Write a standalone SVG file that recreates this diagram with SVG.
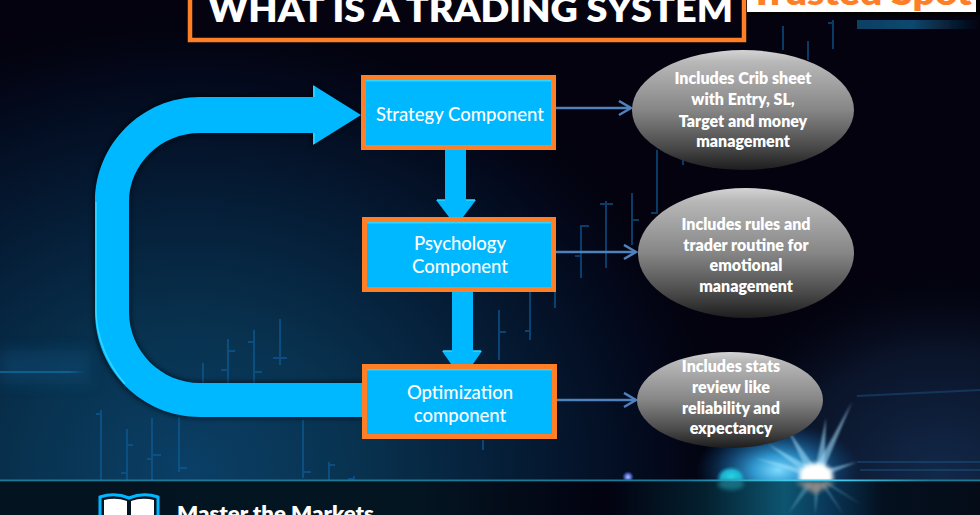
<svg xmlns="http://www.w3.org/2000/svg" width="980" height="515" viewBox="0 0 980 515">
<defs>
<radialGradient id="glow" gradientUnits="userSpaceOnUse" cx="0" cy="0" r="1" gradientTransform="translate(190 470) scale(560 470)"><stop offset="0" stop-color="#0b3f66"/><stop offset=".3" stop-color="#08324f"/><stop offset=".6" stop-color="#051b34"/><stop offset=".85" stop-color="#03081a"/><stop offset="1" stop-color="#03030f" stop-opacity="0"/></radialGradient>
<radialGradient id="glowR" gradientUnits="userSpaceOnUse" cx="0" cy="0" r="1" gradientTransform="translate(940 480) scale(260 220)"><stop offset="0" stop-color="#12294a"/><stop offset=".6" stop-color="#0a1328"/><stop offset="1" stop-color="#03030f" stop-opacity="0"/></radialGradient>
<linearGradient id="floor" x1="0" x2="1" y1="0" y2="0"><stop offset="0" stop-color="#031320"/><stop offset=".42" stop-color="#041522"/><stop offset=".62" stop-color="#020210"/><stop offset=".72" stop-color="#04202f"/><stop offset=".8" stop-color="#0d5570"/><stop offset=".84" stop-color="#0a3a5c"/><stop offset=".9" stop-color="#04101f"/><stop offset="1" stop-color="#050c18"/></linearGradient>
<linearGradient id="ell" x1="0" x2="0" y1="0" y2="1"><stop offset="0" stop-color="#d4d4d4"/><stop offset=".1" stop-color="#b8b8b8"/><stop offset=".5" stop-color="#868686"/><stop offset=".82" stop-color="#474747"/><stop offset="1" stop-color="#1d1d1d"/></linearGradient>
<radialGradient id="flare"><stop offset="0" stop-color="#7fdcff"/><stop offset=".3" stop-color="#35a8e4" stop-opacity=".9"/><stop offset=".65" stop-color="#1a70b0" stop-opacity=".5"/><stop offset="1" stop-color="#0a4f8c" stop-opacity="0"/></radialGradient>
<radialGradient id="blob"><stop offset="0" stop-color="#2ee8f4"/><stop offset=".65" stop-color="#1cc0dc" stop-opacity=".85"/><stop offset="1" stop-color="#1090c0" stop-opacity="0"/></radialGradient>
<radialGradient id="dot"><stop offset="0" stop-color="#b8c4ff"/><stop offset=".5" stop-color="#6a80f0" stop-opacity=".8"/><stop offset="1" stop-color="#3050c0" stop-opacity="0"/></radialGradient>
<linearGradient id="streakT" x1="0" x2="1" y1="0" y2="0"><stop offset="0" stop-color="#0d3f63"/><stop offset=".45" stop-color="#11486e"/><stop offset="1" stop-color="#0d3f63" stop-opacity="0"/></linearGradient>
<linearGradient id="streakL" x1="0" x2="1" y1="0" y2="0"><stop offset="0" stop-color="#0d5f8e"/><stop offset=".8" stop-color="#0d5f8e"/><stop offset="1" stop-color="#0d5f8e" stop-opacity="0"/></linearGradient>
<linearGradient id="hor" x1="0" x2="1" y1="0" y2="0"><stop offset="0" stop-color="#1a7a98"/><stop offset=".7" stop-color="#1a7a98"/><stop offset=".8" stop-color="#45c8e8"/><stop offset=".86" stop-color="#45c8e8"/><stop offset=".95" stop-color="#1a7a98"/><stop offset="1" stop-color="#1a7a98"/></linearGradient>
<marker id="arr" markerUnits="userSpaceOnUse" markerWidth="16" markerHeight="18" refX="14" refY="8" orient="auto"><path d="M2 1 L14 8 L2 15" fill="none" stroke="#4f81bd" stroke-width="2.6"/></marker>
<filter id="soft" x="-20%" y="-20%" width="140%" height="140%"><feGaussianBlur stdDeviation=".6"/></filter>
<filter id="ray" x="-50%" y="-50%" width="200%" height="200%"><feGaussianBlur stdDeviation="1.200"/></filter>
<filter id="blur2" x="-30%" y="-30%" width="160%" height="160%"><feGaussianBlur stdDeviation="2"/></filter>
<filter id="blur6" x="-30%" y="-100%" width="160%" height="300%"><feGaussianBlur stdDeviation="7"/></filter>
<style>
.box{fill:#00b8ff;stroke:#ff7f27;stroke-width:5}
.hl{stroke:#33d6ff;stroke-width:1.500;fill:none}
.bt{font-family:Lato,"Liberation Sans",sans-serif;font-size:18.500px;font-weight:500;fill:#fff;text-anchor:middle}
.et{font-family:Lato,"Liberation Sans",sans-serif;font-size:16px;font-weight:800;fill:#fff;text-anchor:middle}
.con{fill:none;stroke:#4f81bd;stroke-width:2.4;marker-end:url(#arr)}
.tick{fill:none;stroke:#0f5f9e;stroke-width:2}
.big{fill:#00b8ff}
.ray{fill:#a8e4ff;opacity:.55}
</style>
</defs>
<g id="background">
<rect width="980" height="515" fill="#03020e"/>
<rect width="980" height="480" fill="url(#glow)"/>
<rect y="240" x="720" width="260" height="240" fill="url(#glowR)"/>
<rect y="350" width="90" height="34" fill="#0c4a72" opacity=".5" filter="url(#blur6)"/>
<rect y="371" width="86" height="2" fill="url(#streakL)" filter="url(#soft)"/>
<rect x="857" y="20" width="123" height="9" fill="url(#streakT)" filter="url(#soft)"/>
<g filter="url(#soft)" opacity=".62">
<path class="tick" d="M203 363V383M228 339V383M228 351H235M221 370H228M254 330V383M248 342H254M254 372H262M280 319V365M273 358H287"/>
<path class="tick" d="M101 410V500M96 414H101M127 429V500M127 445H133M121 473H127M152 418V487M152 455H161M147 459H152M179 417V472M179 468H187M303 420V478M303 472H311M329 462V515M329 465H335M354 476V515M348 479H354"/>
<path class="tick" d="M555 257V308M581 225V278M581 226H589M575 256H581M606 201V268M600 204H613M632 193V245M632 220H639M657 150V214M651 213H657M683 150V165"/>
<path class="tick" d="M783 26V50M808 41V60M833 20V49M828 23H833"/>
<path class="tick" d="M499 310V360M499 332H506M530 292V340M525 331H530M555 292V308M483 440V450"/>
</g>
<path d="M857 396L980 390M857 462H980M860 470H980" stroke="#1b5f95" stroke-width="2" opacity=".4" fill="none" filter="url(#soft)"/>
<ellipse cx="778" cy="470" rx="82" ry="48" fill="url(#flare)"/>
<g filter="url(#ray)">
<path class="ray" d="M812 474L852 402L822 474Z"/>
<path class="ray" d="M808 474L788 430L820 474Z"/>
<path class="ray" d="M822 470L857 462L824 476Z"/>
<path class="ray" d="M806 474L768 444L812 468Z"/>
<path class="ray" d="M814 474L826 418L824 474Z"/>
<path class="ray" d="M806 476L755 458L808 470Z"/>
</g>
<ellipse cx="816" cy="477" rx="17" ry="14" fill="#fff" filter="url(#blur2)"/>
<ellipse cx="731" cy="478" rx="15" ry="12" fill="url(#blob)"/>
<ellipse cx="628" cy="477" rx="6" ry="6" fill="url(#dot)"/>
<rect y="481" width="980" height="34" fill="url(#floor)"/>
<g filter="url(#ray)">
<path d="M806 483L788 514L814 483ZM814 483L815 515L820 483ZM820 483L844 515L824 483ZM824 483L862 505L826 481Z" fill="#6ab4d4" opacity=".4"/>
</g>
<path d="M795 482H836L815 494Z" fill="#9a8f88" opacity=".85" filter="url(#blur2)"/>
<ellipse cx="731" cy="484" rx="13" ry="6" fill="#1c8898" opacity=".7" filter="url(#blur2)"/>
<rect y="479.500" width="980" height="1.800" fill="url(#hor)"/>
</g>
<g id="title">
<rect x="190" y="-10" width="554" height="50" fill="#05030f" stroke="#ff7f27" stroke-width="4.500"/>
<text x="208" y="22" font-family="Lato,'Liberation Sans',sans-serif" font-size="35" font-weight="800" fill="#fff" textLength="525" lengthAdjust="spacingAndGlyphs">WHAT IS A TRADING SYSTEM</text>
</g>
<g id="badge">
<rect x="747" y="-2" width="233" height="17" fill="#000"/>
<rect x="747" y="-2" width="229" height="14" fill="#fff"/>
<text x="750" y="5" font-family="Lato,'Liberation Sans',sans-serif" font-size="34" font-weight="800" fill="#ff7f27" textLength="222" lengthAdjust="spacingAndGlyphs">Trusted Spot</text>
</g>
<g id="connectors">
<path d="M362 419H200C140 419 93 372 93 312V202C93 142 140 95 200 95H311V83L364 115L311 147V135H200C162 135 131 166 131 202V312C131 350 162 381 200 381H362Z" fill="#000" opacity=".45" filter="url(#blur2)"/>
<path class="big" d="M362 417H200C142 417 95 370 95 312V202C95 144 142 97 200 97H313V85L361 115L313 145V133H200C161 133 129 164 129 202V312C129 351 161 383 200 383H362Z"/>
<path class="hl" d="M314 97V86M314 133V144M96 312V202M96 312C97 340 108 364 125 384"/>
<rect class="big" x="445" y="150" width="21" height="50"/>
<path class="big" d="M436 200H476L463 217H449Z"/>
<rect class="big" x="452" y="292" width="21" height="59"/>
<path class="big" d="M442 351H482L473 364H451Z"/>
<path class="hl" d="M437 200H445M466 200H475M443 351H452M473 351H481"/>
<path class="con" d="M556 108H631"/>
<path class="con" d="M556 252H636"/>
<path class="con" d="M557 400H636"/>
</g>
<g id="strategy">
<rect class="box" x="363.500" y="77.500" width="190" height="70"/>
<path class="hl" d="M366 80.800H551"/>
<text class="bt" x="460" y="120.500">Strategy Component</text>
</g>
<g id="psychology">
<rect class="box" x="364.500" y="219.500" width="189" height="70"/>
<path class="hl" d="M367 222.800H551"/>
<text class="bt" x="460" y="250">Psychology</text>
<text class="bt" x="460" y="273">Component</text>
</g>
<g id="optimization">
<rect class="box" x="364.500" y="366.500" width="190" height="70"/>
<path class="hl" d="M367 369.800H552"/>
<text class="bt" x="460" y="399">Optimization</text>
<text class="bt" x="460" y="422">component</text>
</g>
<g id="note1">
<ellipse cx="743" cy="110" rx="111" ry="60" fill="url(#ell)"/>
<text class="et" x="743" y="84">Includes Crib sheet</text>
<text class="et" x="743" y="105">with Entry, SL,</text>
<text class="et" x="743" y="127">Target and money</text>
<text class="et" x="743" y="147">management</text>
</g>
<g id="note2">
<ellipse cx="746" cy="253" rx="108" ry="65" fill="url(#ell)"/>
<text class="et" x="746" y="230">Includes rules and</text>
<text class="et" x="746" y="251">trader routine for</text>
<text class="et" x="746" y="271">emotional</text>
<text class="et" x="746" y="292">management</text>
</g>
<g id="note3">
<ellipse cx="730" cy="400" rx="93" ry="48" fill="url(#ell)"/>
<text class="et" x="731" y="372">Includes stats</text>
<text class="et" x="731" y="393">review like</text>
<text class="et" x="731" y="414">reliability and</text>
<text class="et" x="731" y="434">expectancy</text>
</g>
<g id="logo">
<path d="M100 515V497Q115 492 129 498Q143 492 158 497V515" fill="none" stroke="#00b8ff" stroke-width="3"/>
<path d="M104 515V500Q116 497 127 501V515ZM131 515V501Q142 497 154 500V515Z" fill="#fff"/>
<text x="177" y="521" font-family="Lato,'Liberation Sans',sans-serif" font-size="20" font-weight="800" fill="#fff" textLength="197" lengthAdjust="spacingAndGlyphs">Master the Markets</text>
</g>
</svg>
